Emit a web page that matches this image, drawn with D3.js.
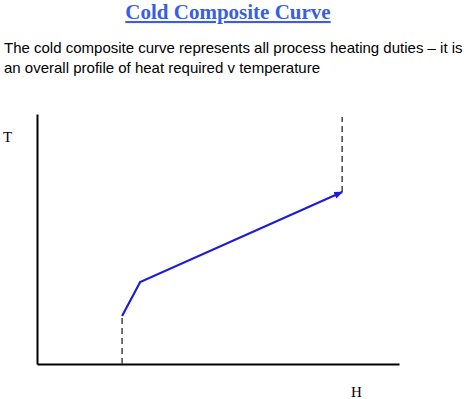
<!DOCTYPE html>
<html>
<head>
<meta charset="utf-8">
<script src="https://cdn.jsdelivr.net/npm/d3@7"></script>
<style>
  body { margin: 0; background: #fff; }
</style>
</head>
<body>
<div id="chart"></div>
<script>
// heat (H) and temperature (T) of the cold composite curve, arbitrary units
var curveH = [23.5, 28.5, 84.3];
var curveT = [19.2, 32.8, 68.8];
// dashed supply / target markers
var startDashT = [0, 19.2];
var endDashT = [68.8, 98.8];

var width = 474, height = 399;
var margin = { top: 114, right: 75, bottom: 35, left: 37 };

var svg = d3.select("#chart").append("svg")
  .attr("width", width)
  .attr("height", height);

var xscale = d3.scaleLinear().domain([0, 100]).range([margin.left, width - margin.right]);
var yscale = d3.scaleLinear().domain([0, 100]).range([height - margin.bottom, margin.top]);

// title
svg.append("text")
  .attr("x", 228)
  .attr("y", 19)
  .attr("text-anchor", "middle")
  .style("font-family", "'Liberation Serif', 'Times New Roman', serif")
  .style("font-weight", "bold")
  .style("font-size", "21px")
  .style("fill", "#3a5ee0")
  .style("text-decoration", "underline")
  .text("Cold Composite Curve");

svg.append("text")
  .attr("x", 4)
  .attr("y", 53)
  .style("font-family", "'Liberation Sans', Arial, sans-serif")
  .style("font-size", "15px")
  .style("fill", "#000")
  .text("The cold composite curve represents all process heating duties \u2013 it is");
svg.append("text")
  .attr("x", 4)
  .attr("y", 73)
  .style("font-family", "'Liberation Sans', Arial, sans-serif")
  .style("font-size", "15px")
  .style("fill", "#000")
  .text("an overall profile of heat required v temperature");

// axes (no ticks)
svg.append("g")
  .attr("transform", "translate(0," + yscale(0) + ")")
  .call(d3.axisBottom(xscale).ticks(0).tickSizeOuter(0))
  .call(g => g.select(".domain").attr("stroke", "#000").attr("stroke-width", 2));
svg.append("g")
  .attr("transform", "translate(" + xscale(0) + ",0)")
  .call(d3.axisLeft(yscale).ticks(0).tickSizeOuter(0))
  .call(g => g.select(".domain").attr("stroke", "#000").attr("stroke-width", 2));

svg.append("text")
  .attr("x", 3)
  .attr("y", 142)
  .style("font-family", "'Liberation Serif', 'Times New Roman', serif")
  .style("font-size", "15px")
  .text("T");
svg.append("text")
  .attr("x", 351)
  .attr("y", 397)
  .style("font-family", "'Liberation Serif', 'Times New Roman', serif")
  .style("font-size", "15px")
  .text("H");

// dashed markers
var dash = d3.line().x(d => xscale(d[0])).y(d => yscale(d[1]));
svg.append("path")
  .attr("d", dash(startDashT.map(t => [curveH[0], t])))
  .attr("fill", "none")
  .attr("stroke", "#444")
  .attr("stroke-width", 1.5)
  .attr("stroke-dasharray", "6,4");
svg.append("path")
  .attr("d", dash(endDashT.map(t => [curveH[curveH.length - 1], t])))
  .attr("fill", "none")
  .attr("stroke", "#444")
  .attr("stroke-width", 1.5)
  .attr("stroke-dasharray", "6,4");

// arrow head
svg.append("defs").append("marker")
  .attr("id", "arrow")
  .attr("viewBox", "0 0 10 10")
  .attr("refX", 9)
  .attr("refY", 5)
  .attr("markerWidth", 4)
  .attr("markerHeight", 4)
  .attr("orient", "auto")
  .attr("markerUnits", "strokeWidth")
  .append("path")
  .attr("d", "M0,1 L10,5 L0,9 Z")
  .attr("fill", "#1c1cd6");

var curveData = curveH.map((h, i) => ({ h: h, t: curveT[i] }));
svg.append("path")
  .datum(curveData)
  .attr("d", d3.line().x(d => xscale(d.h)).y(d => yscale(d.t)))
  .attr("fill", "none")
  .attr("stroke", "#1c1cd6")
  .attr("stroke-width", 2.2)
  .attr("marker-end", "url(#arrow)");
</script>
</body>
</html>
